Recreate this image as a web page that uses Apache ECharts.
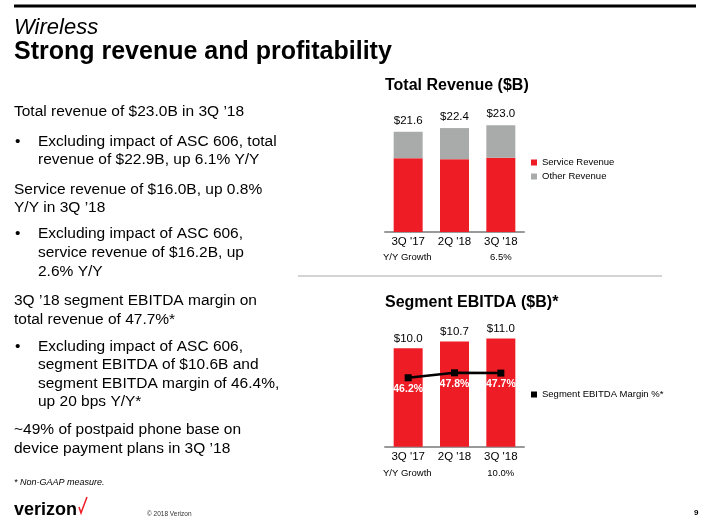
<!DOCTYPE html>
<html>
<head>
<meta charset="utf-8">
<title>Wireless</title>
<script src="https://cdn.jsdelivr.net/npm/echarts@6/dist/echarts.min.js"></script>
<style>html,body{margin:0;padding:0;background:#fff;}</style>
</head>
<body>
<div id="main" style="width:710px;height:527px;"></div>
<script type="text/javascript">
// chart values
var quarters = ["3Q '17", "2Q '18", "3Q '18"];
var serviceRev = [15.9, 15.7, 16.0];
var otherRev = [5.7, 6.7, 7.0];
var totalRev = [21.6, 22.4, 23.0];
var ebitda = [10.0, 10.7, 11.0];
var ebitdaMargin = [46.2, 47.8, 47.7];
var revGrowth = ['', '', '6.5%'];
var ebitdaGrowth = ['', '', '10.0%'];

var FONT = 'Liberation Sans, Arial, sans-serif';
var RED = '#ee1c25';
var GRAY = '#a9abaa';

// left hand text block: [x, y, text]
var bodyLines = [
  [14, 111.7, "Total revenue of $23.0B in 3Q \u201918"],
  [38, 141.7, "Excluding impact of ASC 606, total"],
  [38, 160, "revenue of $22.9B, up 6.1% Y/Y"],
  [14, 189.3, "Service revenue of $16.0B, up 0.8%"],
  [14, 207.5, "Y/Y in 3Q \u201918"],
  [38, 233.3, "Excluding impact of ASC 606,"],
  [38, 252.3, "service revenue of $16.2B, up"],
  [38, 271.3, "2.6% Y/Y"],
  [14, 300.7, "3Q \u201918 segment EBITDA margin on"],
  [14, 319.3, "total revenue of 47.7%*"],
  [38, 346.7, "Excluding impact of ASC 606,"],
  [38, 365, "segment EBITDA of $10.6B and"],
  [38, 383.3, "segment EBITDA margin of 46.4%,"],
  [38, 401.7, "up 20 bps Y/Y*"],
  [14, 430, "~49% of postpaid phone base on"],
  [14, 448.3, "device payment plans in 3Q \u201918"]
];
var bulletYs = [141.7, 233.3, 346.7];

function txt(x, y, s, font, fill, align) {
  return {
    type: 'text', x: x, y: y, silent: true,
    style: { text: s, font: font, fill: fill || '#000', align: align || 'left', verticalAlign: 'middle' }
  };
}

var graphics = [
  { type: 'rect', shape: { x: 14, y: 4.5, width: 682, height: 3 }, style: { fill: '#000' } },
  { type: 'rect', shape: { x: 298, y: 275, width: 364, height: 2 }, style: { fill: '#d4d4d4' } },
  txt(14, 28, 'Wireless', 'italic 22px ' + FONT),
  txt(14, 52, 'Strong revenue and profitability', 'bold 25px ' + FONT),
  txt(385, 86, 'Total Revenue ($B)', 'bold 16px ' + FONT),
  txt(385, 302.7, 'Segment EBITDA ($B)*', 'bold 16px ' + FONT),
  txt(383, 257, 'Y/Y Growth', '9.5px ' + FONT),
  txt(383, 473.3, 'Y/Y Growth', '9.5px ' + FONT),
  txt(14, 482, '* Non-GAAP measure.', 'italic 9px ' + FONT),
  txt(14, 510, 'verizon', 'bold 18px ' + FONT),
  { type: 'polyline', shape: { points: [[79, 507], [81, 513], [87, 497]] },
    style: { stroke: RED, lineWidth: 1.5, fill: null } },
  txt(147, 514, '\u00a9 2018 Verizon', '6.5px ' + FONT, '#333'),
  txt(694, 513, '9', 'bold 8px ' + FONT)
];
bodyLines.forEach(function (l) { graphics.push(txt(l[0], l[1], l[2], '15.5px ' + FONT)); });
bulletYs.forEach(function (y) { graphics.push(txt(15, y, '\u2022', '15.5px ' + FONT)); });

// growth numbers under each category
var catCenters = [408, 454.5, 500.8];
revGrowth.forEach(function (g, i) { if (g) graphics.push(txt(catCenters[i], 257, g, '9.5px ' + FONT, '#000', 'center')); });
ebitdaGrowth.forEach(function (g, i) { if (g) graphics.push(txt(catCenters[i], 473.3, g, '9.5px ' + FONT, '#000', 'center')); });

var axisCommon = {
  type: 'category',
  data: quarters,
  axisTick: { show: false },
  axisLine: { lineStyle: { color: '#999', width: 2 } },
  axisLabel: { color: '#000', fontSize: 11.5, fontFamily: FONT }
};

var myChart = echarts.init(document.getElementById('main'));
var option = {
  animation: false,
  textStyle: { fontFamily: FONT },
  graphic: graphics,
  grid: [
    { left: 385, width: 139, top: 116, height: 116 },
    { left: 385, width: 139, top: 328.7, height: 118 }
  ],
  legend: [
    {
      data: ['Service Revenue', 'Other Revenue'],
      orient: 'vertical', left: 531, top: 157, padding: 0,
      itemWidth: 6, itemHeight: 6, itemGap: 3, icon: 'rect',
      textStyle: { fontSize: 9.5, color: '#000', fontFamily: FONT, lineHeight: 11 }
    },
    {
      data: ['Segment EBITDA Margin %*'],
      orient: 'vertical', left: 531, top: 389, padding: 0,
      itemWidth: 6, itemHeight: 6, icon: 'rect',
      itemStyle: { color: '#000' },
      textStyle: { fontSize: 9.5, color: '#000', fontFamily: FONT, lineHeight: 11 }
    }
  ],
  xAxis: [
    Object.assign({ gridIndex: 0 }, axisCommon, { axisLabel: Object.assign({ margin: 4 }, axisCommon.axisLabel) }),
    Object.assign({ gridIndex: 1 }, axisCommon, { axisLabel: Object.assign({ margin: 4.5 }, axisCommon.axisLabel) })
  ],
  yAxis: [
    { gridIndex: 0, type: 'value', min: 0, max: 25, show: false },
    { gridIndex: 1, type: 'value', min: 0, max: 12, show: false },
    { gridIndex: 1, type: 'value', min: 24, max: 62, show: false }
  ],
  series: [
    {
      name: 'Service Revenue', type: 'bar', stack: 'rev', xAxisIndex: 0, yAxisIndex: 0,
      barWidth: 29, data: serviceRev, itemStyle: { color: RED }
    },
    {
      name: 'Other Revenue', type: 'bar', stack: 'rev', xAxisIndex: 0, yAxisIndex: 0,
      barWidth: 29, data: otherRev, itemStyle: { color: GRAY },
      label: {
        show: true, position: 'top', distance: 5, color: '#000', fontSize: 11.5, fontFamily: FONT,
        formatter: function (p) { return '$' + totalRev[p.dataIndex].toFixed(1); }
      }
    },
    {
      name: 'Segment EBITDA', type: 'bar', xAxisIndex: 1, yAxisIndex: 1,
      barWidth: 29, data: ebitda, itemStyle: { color: RED },
      label: {
        show: true, position: 'top', distance: 4, color: '#000', fontSize: 11.5, fontFamily: FONT,
        formatter: function (p) { return '$' + p.value.toFixed(1); }
      }
    },
    {
      name: 'Segment EBITDA Margin %*', type: 'line', xAxisIndex: 1, yAxisIndex: 2,
      data: ebitdaMargin, symbol: 'rect', symbolSize: 7,
      lineStyle: { color: '#000', width: 2.5 }, itemStyle: { color: '#000' },
      label: {
        show: true, position: 'bottom', distance: 2, color: '#fff', fontWeight: 'bold',
        fontSize: 10.5, fontFamily: FONT,
        formatter: function (p) { return p.value.toFixed(1) + '%'; }
      }
    }
  ]
};
myChart.setOption(option);
</script>
</body>
</html>
